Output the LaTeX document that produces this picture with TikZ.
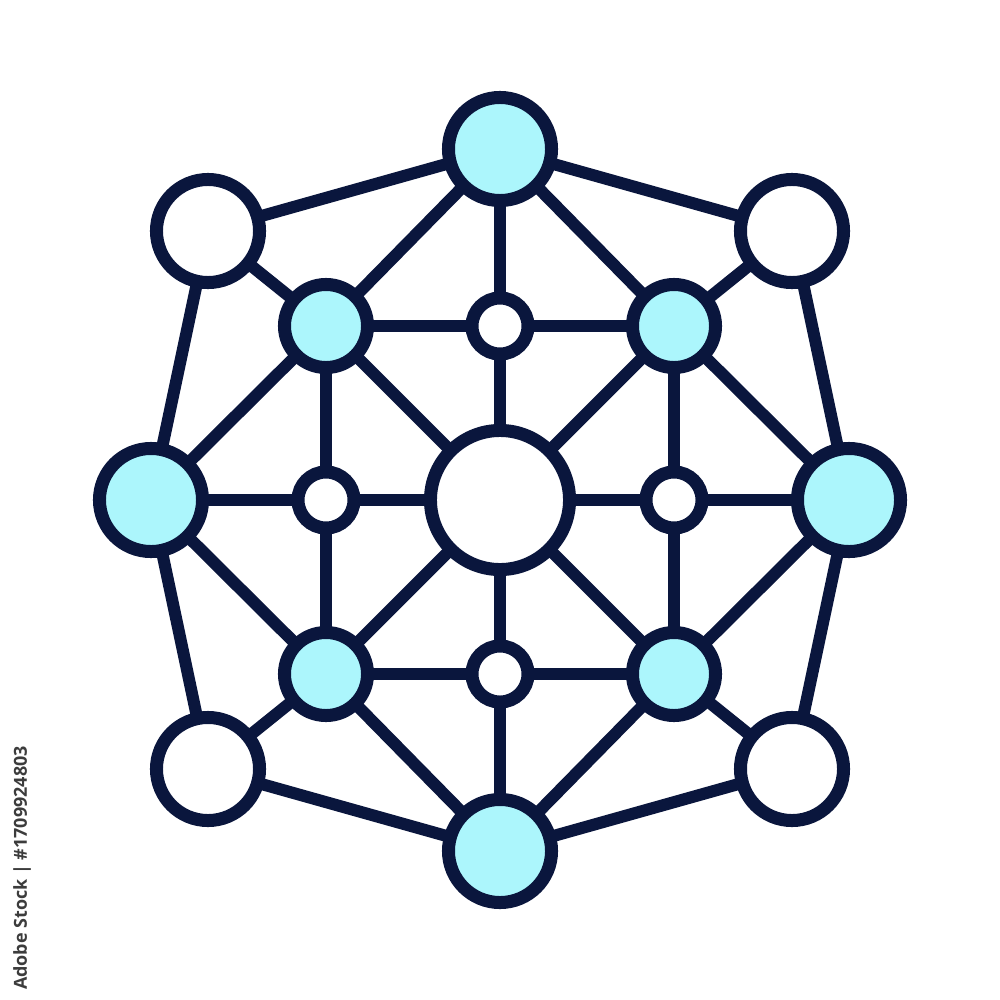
\documentclass[tikz,border=0pt]{standalone}
\usepackage{fontspec}
\setmainfont{Open Sans}
\definecolor{navy}{RGB}{10,22,61}
\definecolor{aqua}{RGB}{172,246,252}
\definecolor{wmark}{RGB}{60,60,60}
\pgfdeclarelayer{bg}
\pgfsetlayers{bg,main}
\begin{document}
\begin{tikzpicture}[x=0.01cm,y=-0.01cm,
  edge/.style={draw=navy,line width=0.12cm},
  ring/.style={circle,draw=navy,line width=0.13cm,inner sep=0pt},
  bignode/.style={ring,fill=aqua,minimum size=1.03cm},
  cornernode/.style={ring,fill=white,minimum size=1.03cm},
  midnode/.style={ring,fill=aqua,minimum size=0.83cm},
  smallnode/.style={ring,fill=white,minimum size=0.56cm},
  centernode/.style={ring,fill=white,minimum size=1.39cm}]
\useasboundingbox (0,0) rectangle (1000,1000);
% nodes
\node[bignode] (T) at (500,149) {};
\node[bignode] (B) at (500,851) {};
\node[bignode] (L) at (151,500) {};
\node[bignode] (R) at (849,500) {};
\node[cornernode] (CTL) at (208,231) {};
\node[cornernode] (CTR) at (792,231) {};
\node[cornernode] (CBL) at (208,769) {};
\node[cornernode] (CBR) at (792,769) {};
\node[midnode] (ITL) at (326,326) {};
\node[midnode] (ITR) at (674,326) {};
\node[midnode] (IBL) at (326,674) {};
\node[midnode] (IBR) at (674,674) {};
\node[smallnode] (ST) at (500,326) {};
\node[smallnode] (SB) at (500,674) {};
\node[smallnode] (SL) at (326,500) {};
\node[smallnode] (SR) at (674,500) {};
\node[centernode] (C) at (500,500) {};
\begin{pgfonlayer}{bg}
\fill[white] (0,0) rectangle (1000,1000);
% outer ring
\draw[edge] (T.center) -- (CTL.center); \draw[edge] (CTL.center) -- (L.center);
\draw[edge] (L.center) -- (CBL.center); \draw[edge] (CBL.center) -- (B.center);
\draw[edge] (B.center) -- (CBR.center); \draw[edge] (CBR.center) -- (R.center);
\draw[edge] (R.center) -- (CTR.center); \draw[edge] (CTR.center) -- (T.center);
% corners to inner
\draw[edge] (CTL.center) -- (ITL.center); \draw[edge] (CTR.center) -- (ITR.center);
\draw[edge] (CBL.center) -- (IBL.center); \draw[edge] (CBR.center) -- (IBR.center);
% big to inner
\draw[edge] (T.center) -- (ITL.center); \draw[edge] (T.center) -- (ITR.center);
\draw[edge] (L.center) -- (ITL.center); \draw[edge] (L.center) -- (IBL.center);
\draw[edge] (B.center) -- (IBL.center); \draw[edge] (B.center) -- (IBR.center);
\draw[edge] (R.center) -- (ITR.center); \draw[edge] (R.center) -- (IBR.center);
% big to small
\draw[edge] (T.center) -- (ST.center); \draw[edge] (L.center) -- (SL.center);
\draw[edge] (B.center) -- (SB.center); \draw[edge] (R.center) -- (SR.center);
% inner to small
\draw[edge] (ITL.center) -- (ST.center); \draw[edge] (ST.center) -- (ITR.center);
\draw[edge] (ITL.center) -- (SL.center); \draw[edge] (SL.center) -- (IBL.center);
\draw[edge] (IBL.center) -- (SB.center); \draw[edge] (SB.center) -- (IBR.center);
\draw[edge] (ITR.center) -- (SR.center); \draw[edge] (SR.center) -- (IBR.center);
% to centre
\draw[edge] (ITL.center) -- (C.center); \draw[edge] (ITR.center) -- (C.center);
\draw[edge] (IBL.center) -- (C.center); \draw[edge] (IBR.center) -- (C.center);
\draw[edge] (ST.center) -- (C.center); \draw[edge] (SL.center) -- (C.center);
\draw[edge] (SB.center) -- (C.center); \draw[edge] (SR.center) -- (C.center);
\end{pgfonlayer}
% watermark
\node[rotate=90,text=wmark,font=\fontsize{5.1}{6}\selectfont\bfseries,inner sep=0pt] (wm) at (22,868) {Adobe Stock | \#1709924803};
\end{tikzpicture}
\end{document}
